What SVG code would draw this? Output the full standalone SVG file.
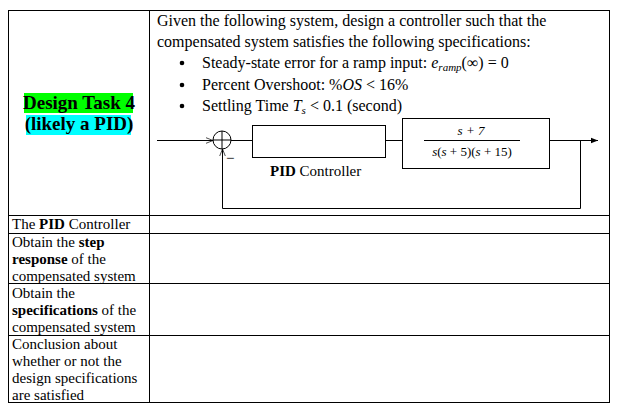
<svg xmlns="http://www.w3.org/2000/svg" width="617" height="409" viewBox="0 0 617 409">
<style>
text{font-family:"Liberation Serif",serif;font-size:15px;fill:#000}
.b{font-weight:bold}
.m{font-style:italic}
.s{font-size:16px}
.t{font-size:19px}
.f{font-size:13px}
.sub{font-size:11px}
.ln{stroke:#000;stroke-width:1;fill:none}
</style>
<defs><marker id="ar" viewBox="0 0 10 10" refX="10" refY="5" markerWidth="7" markerHeight="7" orient="auto"><path d="M0,1 L10,5 L0,9 z" fill="#000"/></marker>
<marker id="oa" viewBox="0 0 10 10" refX="10" refY="5" markerWidth="7" markerHeight="7" orient="auto"><path d="M0,1 L10,5 L0,9" fill="none" stroke="#000"/></marker></defs>
<rect x="0" y="0" width="617" height="409" fill="#fff"/>
<g id="table" class="ln">
<rect x="8.5" y="10.5" width="601" height="392"/>
<line x1="149.5" y1="10" x2="149.5" y2="402"/>
<line x1="8" y1="215.5" x2="609" y2="215.5"/>
<line x1="8" y1="233.5" x2="609" y2="233.5"/>
<line x1="8" y1="283.5" x2="609" y2="283.5"/>
<line x1="8" y1="335.5" x2="609" y2="335.5"/>
</g>
<g id="title">
<rect x="24" y="93" width="109" height="20" fill="#00ff00"/>
<rect x="26" y="115" width="105" height="20" fill="#00ffff"/>
<text x="79" y="109" class="b t" text-anchor="middle">Design Task 4</text>
<text x="79" y="130" class="b t" text-anchor="middle">(likely a PID)</text>
</g>
<g id="spec">
<text x="157" y="26" class="s">Given the following system, design a controller such that the</text>
<text x="157" y="47" class="s">compensated system satisfies the following specifications:</text>
<circle cx="182" cy="63" r="2.3"/><circle cx="182" cy="85" r="2.3"/><circle cx="182" cy="106" r="2.3"/>
<text x="202" y="68" class="s">Steady-state error for a ramp input: <tspan class="m">e</tspan><tspan class="m sub" dy="3">ramp</tspan><tspan dy="-3">(∞) = 0</tspan></text>
<text x="202" y="90" class="s">Percent Overshoot: %<tspan class="m">OS</tspan> &lt; 16%</text>
<text x="202" y="111" class="s">Settling Time <tspan class="m">T</tspan><tspan class="m sub" dy="3">s</tspan><tspan dy="-3"> &lt; 0.1 (second)</tspan></text>
</g>
<g id="sum" class="ln"><circle cx="222" cy="140" r="9"/><line x1="213" y1="140" x2="231" y2="140"/><line x1="222" y1="131" x2="222" y2="149"/></g>
<text x="226" y="163">−</text>
<g id="pid"><rect x="252.5" y="125.5" width="133" height="32" class="ln"/><text x="270" y="176"><tspan class="b">PID</tspan> Controller</text></g>
<g id="plant"><rect x="402.5" y="118.5" width="147" height="50" class="ln"/>
<text x="471" y="135" class="m f" text-anchor="middle">s + 7</text>
<line x1="424" y1="140.5" x2="520" y2="140.5" class="ln"/>
<text x="472" y="156" class="f" text-anchor="middle"><tspan class="m">s</tspan>(<tspan class="m">s</tspan> + 5)(<tspan class="m">s</tspan> + 15)</text></g>
<g id="connectors" class="ln">
<line x1="157" y1="140.5" x2="213" y2="140.5" marker-end="url(#oa)"/>
<line x1="231" y1="140.5" x2="252" y2="140.5"/>
<line x1="385" y1="140.5" x2="402" y2="140.5"/>
<line x1="549" y1="140.5" x2="598" y2="140.5" marker-end="url(#ar)"/>
<polyline points="580.5,140 580.5,208.5 222.5,208.5 222.5,149" marker-end="url(#oa)"/>
</g>
<g id="rows">
<text x="12" y="229">The <tspan class="b">PID</tspan> Controller</text>
<text x="12" y="247">Obtain the <tspan class="b">step</tspan></text>
<text x="12" y="264"><tspan class="b">response</tspan> of the</text>
<text x="12" y="281">compensated system</text>
<text x="12" y="298">Obtain the</text>
<text x="12" y="315"><tspan class="b">specifications</tspan> of the</text>
<text x="12" y="332">compensated system</text>
<text x="12" y="349">Conclusion about</text>
<text x="12" y="366">whether or not the</text>
<text x="12" y="383">design specifications</text>
<text x="12" y="400">are satisfied</text>
</g>
</svg>
